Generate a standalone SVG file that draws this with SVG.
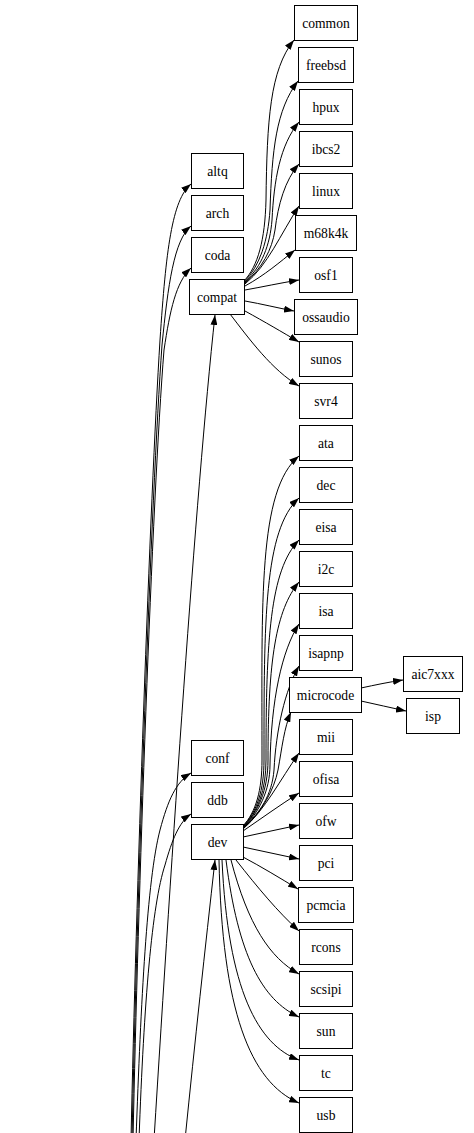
<svg xmlns="http://www.w3.org/2000/svg" width="474" height="1133" viewBox="0 0 474 1133">
<style>
.n rect{fill:#fff;stroke:#000;stroke-width:1}
.n text{font-size:13.6px;text-anchor:middle;fill:#000}
.e path{fill:none;stroke:#000;stroke-width:1;marker-end:url(#a)}
</style>
<defs>
<marker id="a" markerWidth="10" markerHeight="7" refX="10" refY="3.5" orient="auto" markerUnits="userSpaceOnUse"><path d="M0,0 L10,3.5 L0,7 z" fill="#000"/></marker>
</defs>
<rect width="474" height="1133" fill="#fff"/>
<g id="edges" class="e">
<path d="M131,1140 C136,900 150,500 160,340 C166,250 172,200 191,184"/>
<path d="M132,1140 C137,900 151,500 162,345 C168,285 174,240 191,226"/>
<path d="M133,1140 C138,900 152,500 164,350 C170,310 176,282 191,268"/>
<path d="M136,1140 C141,1000 147,880 160,830 C168,800 176,782 191,773"/>
<path d="M139,1140 C144,1000 152,905 165,865 C172,840 179,822 191,814"/>
<path d="M154,1140 C172,850 195,500 215,315"/>
<path d="M185,1140 C195,1040 205,950 215,860"/>
<path d="M244,281 C258,266 265,240 266,200 C267,120 270,70 294,40"/>
<path d="M244,282 C260,266 268,240 270,210 C272,150 276,110 298,81"/>
<path d="M245,282 C262,266 270,245 272,220 C274,180 280,145 299,122"/>
<path d="M245,283 C262,268 272,250 275,230 C278,205 285,180 299,164"/>
<path d="M245,284 C268,265 280,235 299,206"/>
<path d="M245,286 C265,275 280,262 295,250"/>
<path d="M245,290 C262,287 280,283 299,280"/>
<path d="M245,301 C262,304 278,308 294,311"/>
<path d="M245,311 C265,322 282,332 299,342"/>
<path d="M230,314 C250,340 272,370 299,386"/>
<path d="M243,826 C256,812 262,790 262,760 C262,600 258,490 299,456"/>
<path d="M243,826 C257,812 264,790 264,760 C264,620 264,530 299,498"/>
<path d="M243,827 C258,812 266,790 266,760 C266,640 270,570 299,540"/>
<path d="M243,827 C258,813 268,790 268,760 C268,660 276,610 299,582"/>
<path d="M243,828 C259,813 270,790 270,765 C271,700 282,650 299,624"/>
<path d="M243,828 C260,813 272,795 274,770 C276,730 285,690 299,666"/>
<path d="M243,829 C262,812 274,790 278,770 C282,748 284,728 291,712"/>
<path d="M243,829 C265,810 280,780 299,753"/>
<path d="M243,831 C262,818 280,805 299,793"/>
<path d="M243,837 C262,833 280,829 299,825"/>
<path d="M243,847 C262,851 280,855 299,859"/>
<path d="M243,857 C260,866 280,878 298,889"/>
<path d="M236,860 C258,888 278,912 299,931"/>
<path d="M231,860 C248,925 270,958 299,974"/>
<path d="M226,860 C238,955 262,1000 299,1017"/>
<path d="M222,860 C228,990 258,1045 299,1060"/>
<path d="M219,860 C222,1010 250,1082 299,1103"/>
<path d="M361,688 C375,685 389,682 403,680"/>
<path d="M361,701 C376,704 391,708 406,711"/>
</g>
<g font-family="Liberation Serif, DejaVu Serif, serif">
<g id="altq" class="n"><rect x="191.5" y="153.5" width="52" height="35"/><text x="217.5" y="175.5">altq</text></g>
<g id="arch" class="n"><rect x="191.5" y="195.5" width="52" height="35"/><text x="217.5" y="217.5">arch</text></g>
<g id="coda" class="n"><rect x="191.5" y="237.5" width="52" height="35"/><text x="217.5" y="259.5">coda</text></g>
<g id="compat" class="n"><rect x="189.5" y="279.5" width="55" height="35"/><text x="217" y="301.5">compat</text></g>
<g id="conf" class="n"><rect x="191.5" y="740.5" width="52" height="35"/><text x="217.5" y="762.5">conf</text></g>
<g id="ddb" class="n"><rect x="191.5" y="782.5" width="52" height="35"/><text x="217.5" y="804.5">ddb</text></g>
<g id="dev" class="n"><rect x="191.5" y="824.5" width="52" height="35"/><text x="217.5" y="846.5">dev</text></g>
<g id="common" class="n"><rect x="294.5" y="5.5" width="63" height="35"/><text x="326" y="27.5">common</text></g>
<g id="freebsd" class="n"><rect x="298.5" y="47.5" width="55" height="35"/><text x="326" y="69.5">freebsd</text></g>
<g id="hpux" class="n"><rect x="299.5" y="89.5" width="53" height="35"/><text x="326" y="111.5">hpux</text></g>
<g id="ibcs2" class="n"><rect x="299.5" y="131.5" width="53" height="35"/><text x="326" y="153.5">ibcs2</text></g>
<g id="linux" class="n"><rect x="299.5" y="173.5" width="53" height="35"/><text x="326" y="195.5">linux</text></g>
<g id="m68k4k" class="n"><rect x="295.5" y="215.5" width="61" height="35"/><text x="326" y="237.5">m68k4k</text></g>
<g id="osf1" class="n"><rect x="299.5" y="257.5" width="53" height="35"/><text x="326" y="279.5">osf1</text></g>
<g id="ossaudio" class="n"><rect x="294.5" y="299.5" width="63" height="35"/><text x="326" y="321.5">ossaudio</text></g>
<g id="sunos" class="n"><rect x="299.5" y="341.5" width="53" height="35"/><text x="326" y="363.5">sunos</text></g>
<g id="svr4" class="n"><rect x="299.5" y="383.5" width="53" height="35"/><text x="326" y="405.5">svr4</text></g>
<g id="ata" class="n"><rect x="299.5" y="425.5" width="53" height="35"/><text x="326" y="447.5">ata</text></g>
<g id="dec" class="n"><rect x="299.5" y="467.5" width="53" height="35"/><text x="326" y="489.5">dec</text></g>
<g id="eisa" class="n"><rect x="299.5" y="509.5" width="53" height="35"/><text x="326" y="531.5">eisa</text></g>
<g id="i2c" class="n"><rect x="299.5" y="551.5" width="53" height="35"/><text x="326" y="573.5">i2c</text></g>
<g id="isa" class="n"><rect x="299.5" y="593.5" width="53" height="35"/><text x="326" y="615.5">isa</text></g>
<g id="isapnp" class="n"><rect x="299.5" y="635.5" width="53" height="35"/><text x="326" y="657.5">isapnp</text></g>
<g id="microcode" class="n"><rect x="289.5" y="677.5" width="72" height="35"/><text x="325.5" y="699.5">microcode</text></g>
<g id="mii" class="n"><rect x="299.5" y="719.5" width="53" height="35"/><text x="326" y="741.5">mii</text></g>
<g id="ofisa" class="n"><rect x="299.5" y="761.5" width="53" height="35"/><text x="326" y="783.5">ofisa</text></g>
<g id="ofw" class="n"><rect x="299.5" y="803.5" width="53" height="35"/><text x="326" y="825.5">ofw</text></g>
<g id="pci" class="n"><rect x="299.5" y="845.5" width="53" height="35"/><text x="326" y="867.5">pci</text></g>
<g id="pcmcia" class="n"><rect x="298.5" y="887.5" width="55" height="35"/><text x="326" y="909.5">pcmcia</text></g>
<g id="rcons" class="n"><rect x="299.5" y="929.5" width="53" height="35"/><text x="326" y="951.5">rcons</text></g>
<g id="scsipi" class="n"><rect x="299.5" y="971.5" width="53" height="35"/><text x="326" y="993.5">scsipi</text></g>
<g id="sun" class="n"><rect x="299.5" y="1013.5" width="53" height="35"/><text x="326" y="1035.5">sun</text></g>
<g id="tc" class="n"><rect x="299.5" y="1055.5" width="53" height="35"/><text x="326" y="1077.5">tc</text></g>
<g id="usb" class="n"><rect x="299.5" y="1097.5" width="53" height="35"/><text x="326" y="1119.5">usb</text></g>
<g id="aic7xxx" class="n"><rect x="403.5" y="656.5" width="59" height="35"/><text x="433" y="678.5">aic7xxx</text></g>
<g id="isp" class="n"><rect x="406.5" y="698.5" width="53" height="35"/><text x="433" y="720.5">isp</text></g>
</g>
</svg>
